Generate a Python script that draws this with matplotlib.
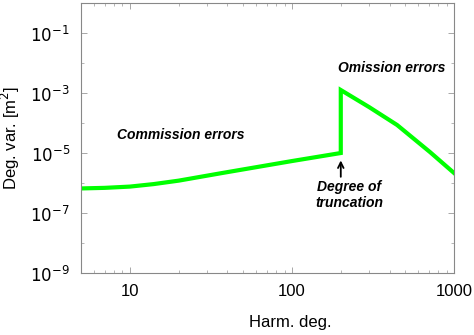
import matplotlib.pyplot as plt
from matplotlib.ticker import LogLocator, NullFormatter, FixedLocator

plt.rcParams['font.family'] = ['Liberation Sans', 'DejaVu Sans']

# commission part: degree 5 .. truncation at 200
comm_deg = [5, 7, 10, 14, 20, 37, 100, 200]
comm_var = [6.6e-7, 6.9e-7, 7.6e-7, 9.2e-7, 1.2e-6, 2.15e-6, 5.4e-6, 1.0e-5]

# omission part: truncation .. 1000
omis_deg = [200, 299, 445, 566, 711, 843, 1000]
omis_var = [1.26e-3, 3.4e-4, 8.6e-5, 2.95e-5, 1.07e-5, 4.8e-6, 2.15e-6]

ytick_vals = [1e-9, 1e-7, 1e-5, 1e-3, 1e-1]
ytick_labels = ['$10^{-9}$', '$10^{-7}$', '$10^{-5}$', '$10^{-3}$', '$10^{-1}$']
xtick_vals = [10, 100, 1000]
xtick_labels = ['10', '100', '1000']

fig = plt.figure(figsize=(4.74, 3.35), dpi=100)
ax = fig.add_axes([0.171, 0.185, 0.787, 0.806])

deg = comm_deg + omis_deg
var = comm_var + omis_var
ax.plot(deg, var, color='#00ff00', linewidth=3.0, solid_joinstyle='miter')

ax.set_xscale('log')
ax.set_yscale('log')
ax.set_xlim(5, 1000)
ax.set_ylim(1e-9, 1)

ax.set_xticks(xtick_vals)
ax.set_xticklabels(xtick_labels)
ax.xaxis.set_minor_locator(LogLocator(base=10, subs=range(2, 10)))
ax.xaxis.set_minor_formatter(NullFormatter())
ax.yaxis.set_major_locator(FixedLocator(ytick_vals))
ax.set_yticklabels(ytick_labels)
ax.yaxis.set_minor_locator(FixedLocator([1e-8, 1e-6, 1e-4, 1e-2]))
ax.yaxis.set_minor_formatter(NullFormatter())

ax.tick_params(which='both', direction='in', top=True, right=True,
               colors='#999999', labelcolor='black', labelsize=12)
ax.tick_params(which='major', length=4, width=0.6, pad=8)
ax.tick_params(which='minor', length=2, width=0.5)
for s in ax.spines.values():
    s.set_color('#888888')
    s.set_linewidth(0.8)

fig.text(290 / 474, 1 - 323 / 335, 'Harm. deg.', fontsize=12, ha='center', va='center')
ax.set_ylabel('Deg. var. [m$^2$]', fontsize=12, labelpad=6)

tstyle = dict(fontsize=10, fontweight='bold', style='italic', ha='center', va='center')
ax.text(20.6, 4e-5, 'Commission errors', **tstyle)
ax.text(414, 6.8e-3, 'Omission errors', **tstyle)
ax.text(225, 4e-7, 'Degree of\ntruncation', linespacing=1.2, **tstyle)
ax.annotate('', xy=(200, 7e-6), xytext=(200, 1.3e-6),
            arrowprops=dict(arrowstyle='->', color='black', lw=1.3))

fig.savefig('out.png', dpi=100)
